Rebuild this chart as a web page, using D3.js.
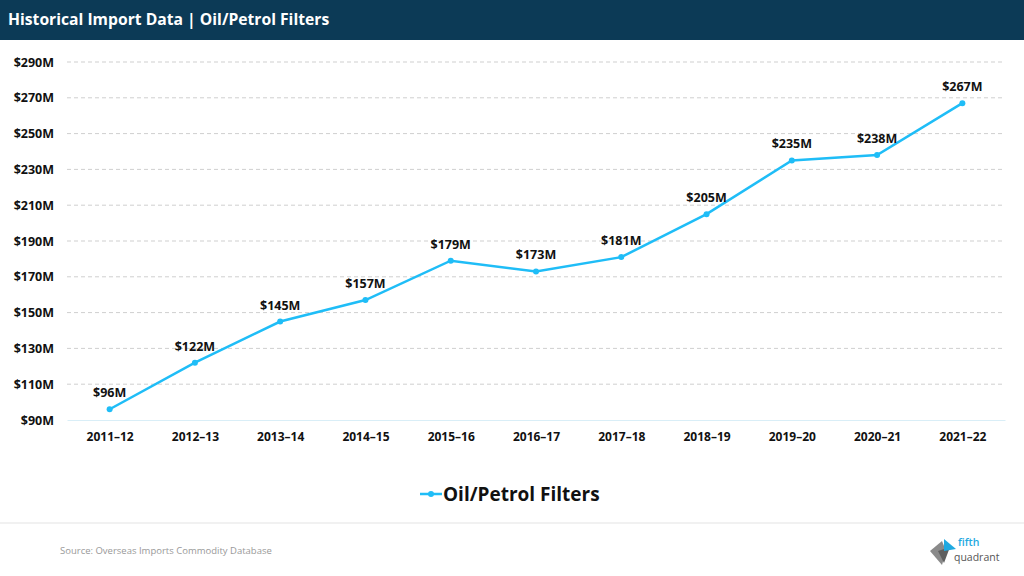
<!DOCTYPE html>
<html>
<head>
<meta charset="utf-8">
<script src="https://cdn.jsdelivr.net/npm/d3@7"></script>
<style>
	body { margin: 0; background: #fff; }
	svg { display: block; font-family: 'Open Sans', sans-serif; }
</style>
</head>
<body>
<div class="canvas"></div>
<script>
const years = ['2011–12', '2012–13', '2013–14', '2014–15', '2015–16', '2016–17', '2017–18', '2018–19', '2019–20', '2020–21', '2021–22'];
const imports = [96, 122, 145, 157, 179, 173, 181, 205, 235, 238, 267];
const yTicks = [90, 110, 130, 150, 170, 190, 210, 230, 250, 270, 290];
const seriesName = 'Oil/Petrol Filters';

const width = 1024, height = 576;
const lineColor = '#1fbdf7';

const svg = d3.select('.canvas').append('svg')
	.attr('width', width)
	.attr('height', height);

// header bar
svg.append('rect')
	.attr('width', width)
	.attr('height', 40)
	.attr('fill', '#0c3a56');
svg.append('text')
	.attr('x', 8)
	.attr('y', 25)
	.attr('fill', '#fff')
	.attr('font-family', 'Open Sans, sans-serif')
	.attr('font-weight', 700)
	.attr('font-size', 15.7)
	.text('Historical Import Data | Oil/Petrol Filters');

// plot area
const margins = {top: 62, right: 19, bottom: 156, left: 67};
const graphWidth = width - margins.left - margins.right;
const graphHeight = height - margins.top - margins.bottom;

const graph = svg.append('g')
	.attr('transform', `translate(${margins.left}, ${margins.top})`);

const x = d3.scalePoint()
	.domain(years)
	.range([0, graphWidth])
	.padding(0.5);

const y = d3.scaleLinear()
	.domain([90, 290])
	.range([graphHeight, 0]);

// gridlines
graph.append('g')
	.selectAll('line')
	.data(yTicks.slice(1))
	.enter()
	.append('line')
	.attr('x1', 0)
	.attr('x2', graphWidth)
	.attr('y1', d => y(d))
	.attr('y2', d => y(d))
	.attr('stroke', '#cfcfcf')
	.attr('stroke-dasharray', '4,3');

// axes
const yAxis = d3.axisLeft(y)
	.tickValues(yTicks)
	.tickSize(0)
	.tickPadding(13)
	.tickFormat(d => '$' + d + 'M');
const yAxisGroup = graph.append('g').call(yAxis);
yAxisGroup.select('.domain').remove();
yAxisGroup.selectAll('text')
	.attr('font-family', 'Open Sans, sans-serif')
	.attr('font-weight', 700)
	.attr('font-size', 12.5)
	.attr('fill', '#111');

const xAxis = d3.axisBottom(x)
	.tickSize(0)
	.tickPadding(12);
const xAxisGroup = graph.append('g')
	.attr('transform', `translate(0, ${graphHeight})`)
	.call(xAxis);
xAxisGroup.select('.domain')
	.attr('stroke', '#d9eef7');
xAxisGroup.selectAll('text')
	.attr('font-family', 'Open Sans, sans-serif')
	.attr('font-weight', 700)
	.attr('font-size', 12)
	.attr('fill', '#111');

// line + markers
const line = d3.line()
	.x((d, i) => x(years[i]))
	.y(d => y(d));

graph.append('path')
	.datum(imports)
	.attr('d', line)
	.attr('fill', 'none')
	.attr('stroke', lineColor)
	.attr('stroke-width', 2.5);

graph.selectAll('circle')
	.data(imports)
	.enter()
	.append('circle')
	.attr('cx', (d, i) => x(years[i]))
	.attr('cy', d => y(d))
	.attr('r', 3)
	.attr('fill', lineColor);

graph.selectAll('.label')
	.data(imports)
	.enter()
	.append('text')
	.attr('class', 'label')
	.attr('x', (d, i) => x(years[i]))
	.attr('y', d => y(d) - 12)
	.attr('text-anchor', 'middle')
	.attr('font-weight', 700)
	.attr('font-size', 12.5)
	.attr('fill', '#111')
	.text(d => '$' + d + 'M');

// legend
const legend = svg.append('g')
	.attr('transform', 'translate(420, 494)');
legend.append('line')
	.attr('x1', 0).attr('x2', 22)
	.attr('stroke', lineColor)
	.attr('stroke-width', 2.5);
legend.append('circle')
	.attr('cx', 11)
	.attr('r', 3)
	.attr('fill', lineColor);
legend.append('text')
	.attr('x', 23)
	.attr('y', 7)
	.attr('font-weight', 700)
	.attr('font-size', 19)
	.attr('fill', '#111')
	.text(seriesName);

// footer
svg.append('line')
	.attr('x1', 0).attr('x2', width)
	.attr('y1', 523).attr('y2', 523)
	.attr('stroke', '#e3e3e3');
svg.append('text')
	.attr('x', 60)
	.attr('y', 554)
	.attr('font-size', 9.5)
	.attr('fill', '#999')
	.text('Source: Overseas Imports Commodity Database');

// logo
const logo = svg.append('g')
	.attr('transform', 'translate(930, 537)');
logo.append('path')
	.attr('d', 'M0,14 L12,4 L16,14 L12,28 Z')
	.attr('fill', '#8a8a8a');
logo.append('path')
	.attr('d', 'M8,14 L20,10 L14,26 Z')
	.attr('fill', '#5f5f5f');
logo.append('path')
	.attr('d', 'M14,2 L26,12 L14,14 Z')
	.attr('fill', '#1fa9e1');
logo.append('text')
	.attr('x', 28).attr('y', 9)
	.attr('font-size', 10.5)
	.attr('font-weight', 600)
	.attr('fill', '#1fa9e1')
	.text('fifth');
logo.append('text')
	.attr('x', 24).attr('y', 24)
	.attr('font-size', 10.5)
	.attr('fill', '#555')
	.text('quadrant');
</script>
</body>
</html>
